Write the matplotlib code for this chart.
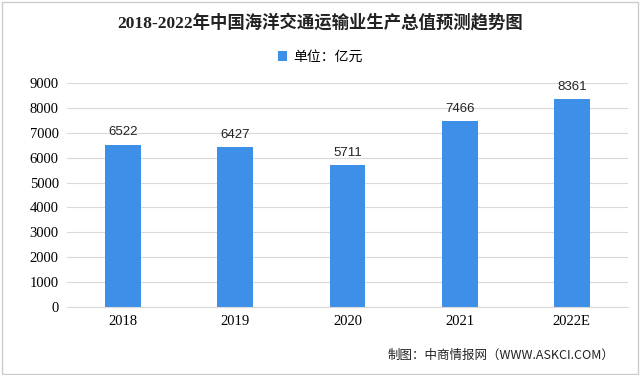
import matplotlib
matplotlib.use('Agg')
import matplotlib.pyplot as plt
from matplotlib.patches import Rectangle

plt.rcParams['font.family'] = ['Noto Sans CJK SC', 'DejaVu Sans']

years = ['2018', '2019', '2020', '2021', '2022E']
values = [6522, 6427, 5711, 7466, 8361]
bar_color = '#3d8fe8'
serif = ['Liberation Serif', 'Noto Sans CJK SC', 'DejaVu Serif']

fig = plt.figure(figsize=(6.4, 3.75), dpi=100)
ax = fig.add_axes([0.105, 0.181, 0.876, 0.598])

x = range(len(years))
ax.bar(x, values, width=0.32, color=bar_color, zorder=2, label='单位：亿元')
for i, v in zip(x, values):
    ax.text(i, v + 250, str(v), ha='center', va='bottom', fontsize=9.5,
            family=['Liberation Sans', 'DejaVu Sans'], color='#222222')

ax.set_xlim(-0.5, len(years) - 0.5)
ax.set_ylim(0, 9000)
ax.set_yticks(range(0, 9001, 1000))
ax.set_xticks(list(x))
ax.set_xticklabels(years, family=serif, fontsize=10.5)
for lab in ax.get_yticklabels():
    lab.set_family(serif)
    lab.set_fontsize(10.5)
ax.tick_params(length=0, pad=6)
ax.grid(axis='y', color='#d9d9d9', linewidth=0.8, zorder=0)
for s in ['top', 'right', 'left']:
    ax.spines[s].set_visible(False)
ax.spines['bottom'].set_color('#d9d9d9')

fig.text(0.5, 0.94, '2018-2022年中国海洋交通运输业生产总值预测趋势图',
         ha='center', va='center', fontsize=12.5, fontweight='bold', color='#222222',
         family=serif)
leg = fig.legend(loc='center', bbox_to_anchor=(0.5, 0.848), frameon=False,
                 fontsize=10, handlelength=0.7, handleheight=0.7, handletextpad=0.4)
fig.text(0.96, 0.052, '制图：中商情报网（WWW.ASKCI.COM）', ha='right', va='center',
         fontsize=9, color='#222222')

fig.patches.append(Rectangle((0.003, 0.004), 0.994, 0.992, transform=fig.transFigure,
                             fill=False, edgecolor='#cccccc', linewidth=1))

fig.savefig('out.png', dpi=100)
